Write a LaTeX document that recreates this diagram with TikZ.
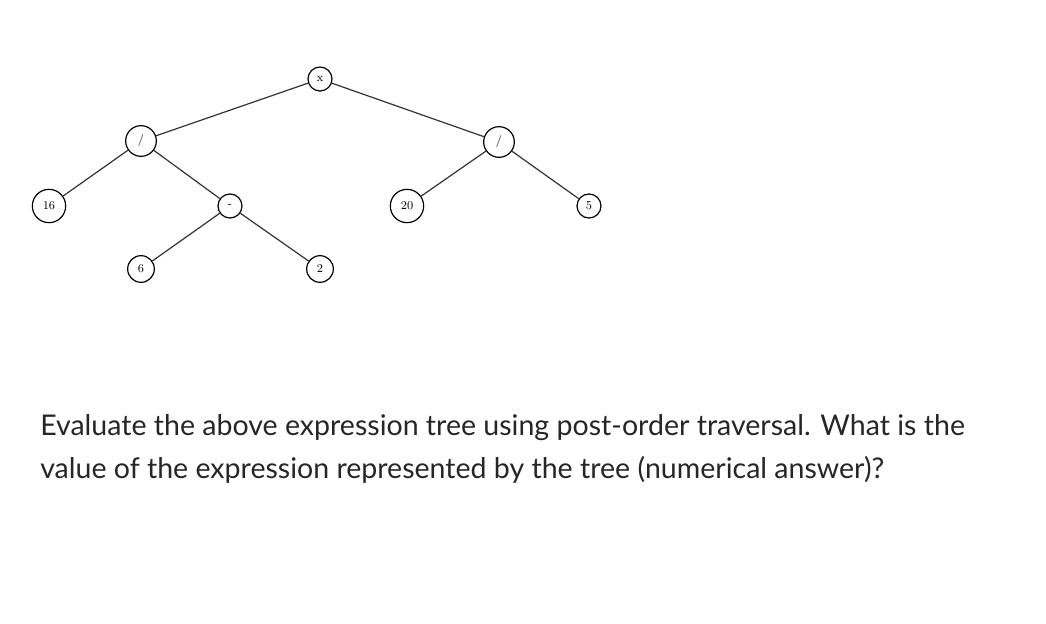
\documentclass[tikz,border=0pt]{standalone}
\usepackage{fontspec}
\newfontfamily\qfont{Lato}
\begin{document}
\begin{tikzpicture}[x=0.75pt,y=-0.75pt,
  tn/.style={circle,draw,line width=0.9pt,inner sep=1pt,minimum size=22pt,font=\fontsize{9}{10}\selectfont},
  tnb/.style={tn,minimum size=25pt},
  tns/.style={tn,minimum size=18pt},
  ed/.style={line width=0.9pt,draw=black!80}]
\useasboundingbox (0,0) rectangle (1046,624);
\node[tns] (x) at (320,79) {x};
\node[tn,minimum size=23pt] (l) at (141,141) {/};
\node[tn,minimum size=23pt] (r) at (499,142) {/};
\node[tnb] (a) at (49,206) {16};
\node[tns] (m) at (230,206) {-};
\node[tnb] (b) at (407,206) {20};
\node[tns] (c) at (589,206) {5};
\node[tn,minimum size=20pt] (s) at (141,269) {6};
\node[tn,minimum size=20pt] (t) at (320,269) {2};
\draw[ed] (x)--(l); \draw[ed] (x)--(r);
\draw[ed] (l)--(a); \draw[ed] (l)--(m);
\draw[ed] (m)--(s); \draw[ed] (m)--(t);
\draw[ed] (r)--(b); \draw[ed] (r)--(c);
\node[anchor=west,inner sep=0pt,align=left,font=\qfont\fontsize{21.4}{32.5}\selectfont,text=black!85] (q) at (40,449)
{Evaluate the above expression tree using post-order traversal. What is the\\
value of the expression represented by the tree (numerical answer)?};
\end{tikzpicture}
\end{document}
